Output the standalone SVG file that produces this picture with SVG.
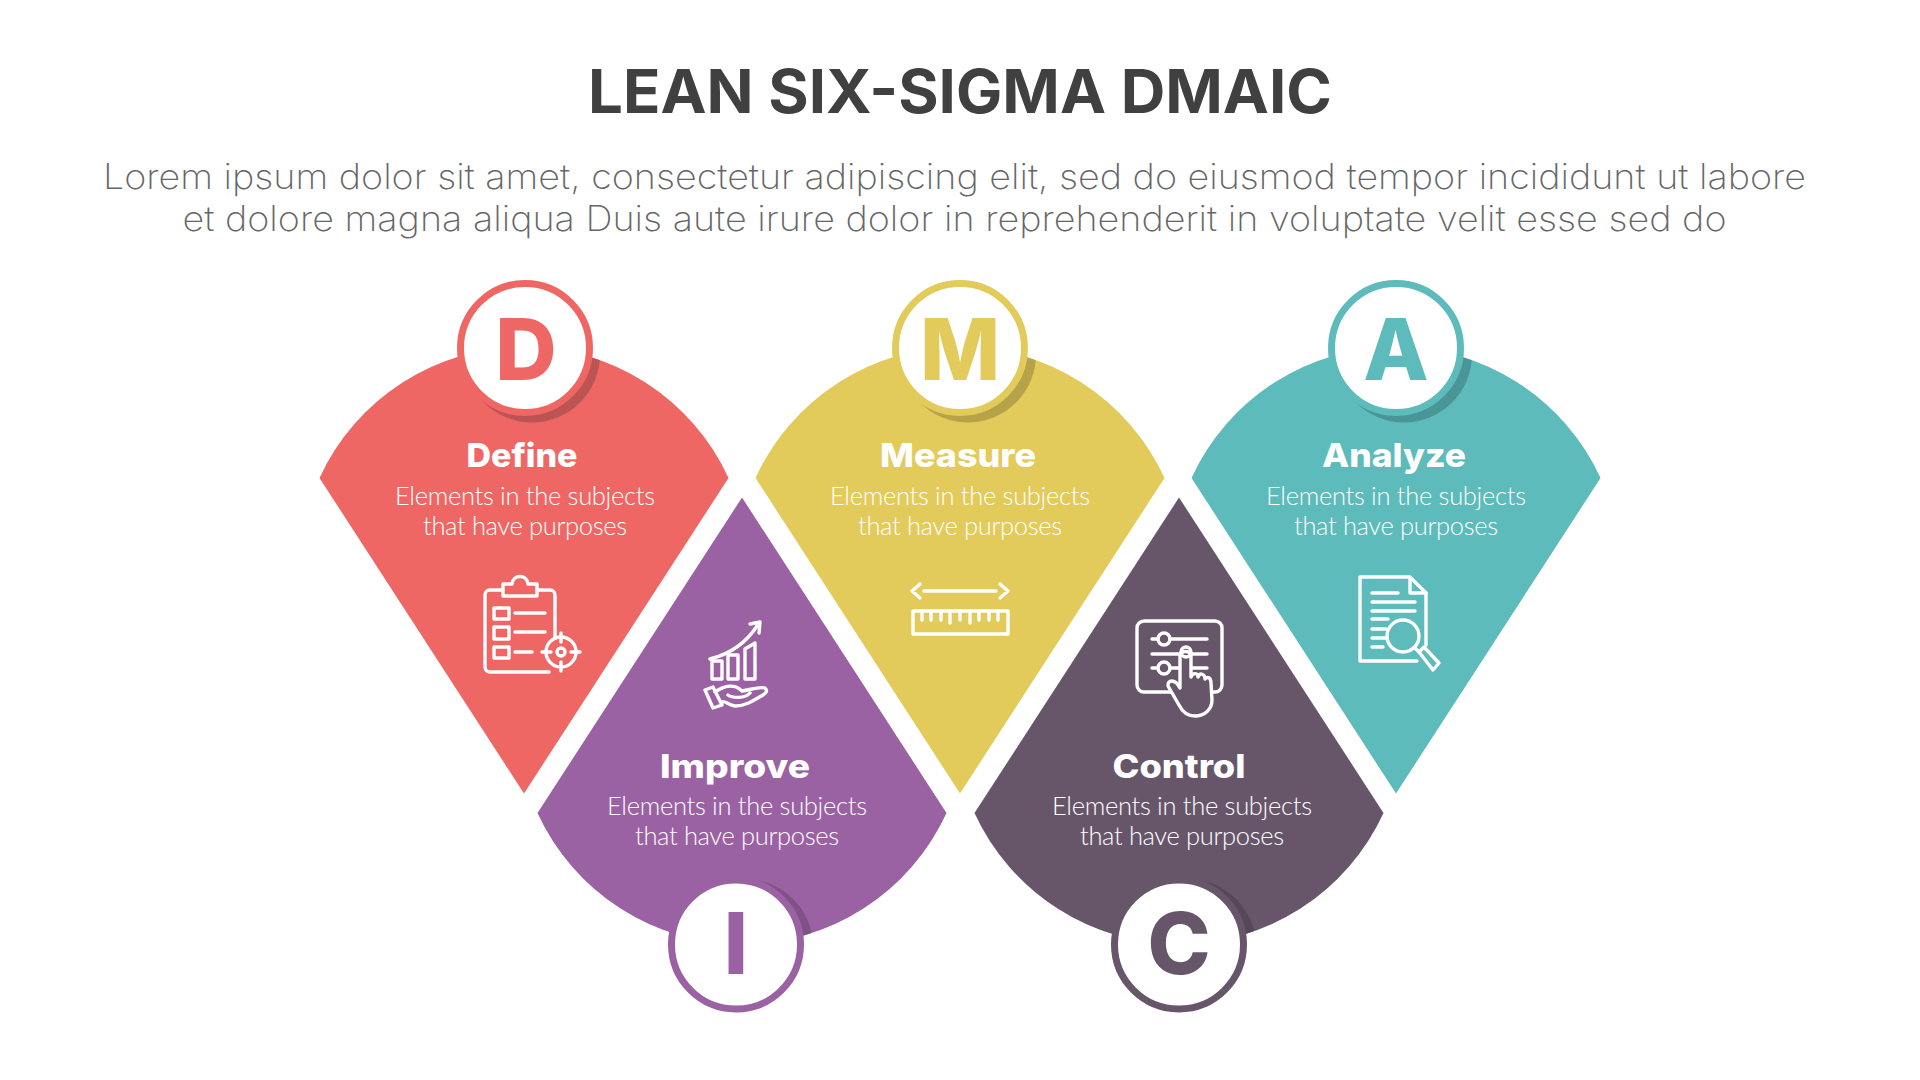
<svg xmlns="http://www.w3.org/2000/svg" width="1920" height="1080" viewBox="0 0 1920 1080">
<style>
text{text-anchor:middle}
.title{font-family:"Inter","Liberation Sans",sans-serif;font-weight:700;font-size:60px;fill:#404040}
.lead{font-family:"Inter","Open Sans",sans-serif;font-weight:200;font-size:35px;fill:#666}
.h{font-family:"Inter","Liberation Sans",sans-serif;font-weight:800;font-size:33px;fill:#fff}
.b{font-family:"Lato","Liberation Sans",sans-serif;font-weight:300;font-size:25.5px;fill:#fff}
.l{font-family:"Inter","Liberation Sans",sans-serif;font-weight:800;font-size:85px}
.i{fill:none;stroke:#fff;stroke-width:3.4;stroke-linecap:round;stroke-linejoin:round}
</style>
<defs>
<path id="down" d="M-204.500 0A225 225 0 0 1 204.500 0L0 315.500Z"/>
<path id="up" d="M-204.500 0A225 225 0 0 0 204.500 0L0 -315.500Z"/>
<clipPath id="cd"><use href="#down" x="524" y="478"/></clipPath>
<clipPath id="cm"><use href="#down" x="960" y="478"/></clipPath>
<clipPath id="ca"><use href="#down" x="1396" y="478"/></clipPath>
<clipPath id="ci"><use href="#up" x="742" y="813"/></clipPath>
<clipPath id="cc"><use href="#up" x="1179" y="813"/></clipPath>
</defs>
<rect width="1920" height="1080" fill="#fff"/>
<g id="header">
<text class="title" x="960" y="112.500" textLength="744" lengthAdjust="spacingAndGlyphs">LEAN SIX-SIGMA DMAIC</text>
<text class="lead" x="954.500" y="189" textLength="1703" lengthAdjust="spacingAndGlyphs">Lorem ipsum dolor sit amet, consectetur adipiscing elit, sed do eiusmod tempor incididunt ut labore</text>
<text class="lead" x="954.500" y="231" textLength="1544" lengthAdjust="spacingAndGlyphs">et dolore magna aliqua Duis aute irure dolor in reprehenderit in voluptate velit esse sed do</text>
</g>
<g id="connectors"/>
<g id="node-define">
<use href="#down" x="524" y="478" fill="#ee6765"/>
<circle cx="532" cy="354.500" r="68" fill="#bd5353" clip-path="url(#cd)"/>
<circle cx="525" cy="348" r="64.500" fill="#fff" stroke="#ee6765" stroke-width="7"/>
<text class="l" x="526" y="380" fill="#ee6765">D</text>
<text class="h" x="522" y="467" textLength="111" lengthAdjust="spacingAndGlyphs">Define</text>
<text class="b" x="525" y="505" textLength="260">Elements in the subjects</text>
<text class="b" x="525" y="535" textLength="204">that have purposes</text>
<g class="i">
<path d="M555 637V595a5 5 0 0 0-5-5H537M503 590H490a5 5 0 0 0-5 5V667a5 5 0 0 0 5 5H549"/>
<path d="M503 584H512C513 574 527 574 528 584H537V596H503Z"/>
<rect x="494" y="608" width="15" height="11"/><rect x="494" y="627" width="15" height="12"/><rect x="494" y="647" width="15" height="11"/>
<path d="M515 613H545M515 632H545M515 652H532"/>
<circle cx="561" cy="652" r="15"/><circle cx="561" cy="652" r="4"/>
<path d="M542 652H551M571 652H580M561 633V642M561 662V671"/>
</g>
</g>
<g id="node-measure">
<use href="#down" x="960" y="478" fill="#e3cb5b"/>
<circle cx="968" cy="354.500" r="68" fill="#b5a249" clip-path="url(#cm)"/>
<circle cx="960" cy="348" r="64.500" fill="#fff" stroke="#e3cb5b" stroke-width="7"/>
<text class="l" x="960" y="380" fill="#e3cb5b">M</text>
<text class="h" x="958" y="467" textLength="156" lengthAdjust="spacingAndGlyphs">Measure</text>
<text class="b" x="960" y="505" textLength="260">Elements in the subjects</text>
<text class="b" x="960" y="535" textLength="204">that have purposes</text>
<g class="i">
<path d="M920 584L912 591L920 598M1000 584L1008 591L1000 598M924 591H996"/>
<rect x="913" y="611" width="95" height="23"/>
<path d="M922 611V620M931 611V620M941 611V620M950 611V623M960 611V620M970 611V623M979 611V620M989 611V620M998 611V620"/>
</g>
</g>
<g id="node-analyze">
<use href="#down" x="1396" y="478" fill="#5dbbbb"/>
<circle cx="1404" cy="354.500" r="68" fill="#4a9595" clip-path="url(#ca)"/>
<circle cx="1396" cy="348" r="64.500" fill="#fff" stroke="#5dbbbb" stroke-width="7"/>
<text class="l" x="1396" y="380" fill="#5dbbbb">A</text>
<text class="h" x="1394" y="467" textLength="144" lengthAdjust="spacingAndGlyphs">Analyze</text>
<text class="b" x="1396" y="505" textLength="260">Elements in the subjects</text>
<text class="b" x="1396" y="535" textLength="204">that have purposes</text>
<g class="i">
<path d="M1426 645V593L1410 577H1360V661H1417"/>
<path d="M1410 578V593H1426"/>
<path d="M1372 593H1398M1372 602H1415M1372 611H1415M1372 619H1388M1372 629H1386M1372 638H1386M1372 647H1383"/>
<circle cx="1403" cy="636" r="16" fill="#5dbbbb"/>
<path d="M1415 648L1419 652M1419 652L1424 647L1439 663L1433 670Z"/>
</g>
</g>
<g id="node-improve">
<use href="#up" x="742" y="813" fill="#9a62a3"/>
<circle cx="745" cy="947" r="68" fill="#7f5186" clip-path="url(#ci)"/>
<circle cx="736" cy="944.500" r="64.500" fill="#fff" stroke="#9a62a3" stroke-width="7"/>
<text class="l" x="736" y="973.500" fill="#9a62a3">I</text>
<text class="h" x="735" y="778" textLength="150" lengthAdjust="spacingAndGlyphs">Improve</text>
<text class="b" x="737" y="815" textLength="260">Elements in the subjects</text>
<text class="b" x="737" y="845" textLength="204">that have purposes</text>
<g class="i">
<path d="M710 659C726 655 744 646 757 626M750 624L760 622L759 633"/>
<path d="M712 661H722V679H712ZM728 655H738V679H728ZM745 649L755 643V679H745Z"/>
<path d="M705 690L713 687L722 705L713 708ZM715 692C725 685 735 684 742 691C750 690 760 686 765 688C768 691 766 693 763 695C753 701 745 706 735 706C728 705 725 700 721 702M728 695C732 698 745 699 750 693"/>
</g>
</g>
<g id="node-control">
<use href="#up" x="1179" y="813" fill="#67566a"/>
<circle cx="1188" cy="947" r="68" fill="#574859" clip-path="url(#cc)"/>
<circle cx="1179" cy="944.500" r="64.500" fill="#fff" stroke="#67566a" stroke-width="7"/>
<text class="l" x="1179" y="973.500" fill="#67566a">C</text>
<text class="h" x="1179" y="778" textLength="133" lengthAdjust="spacingAndGlyphs">Control</text>
<text class="b" x="1182" y="815" textLength="260">Elements in the subjects</text>
<text class="b" x="1182" y="845" textLength="204">that have purposes</text>
<g class="i">
<rect x="1137" y="621" width="85" height="71" rx="7"/>
<path d="M1152 639H1158M1170 639H1207M1152 654H1207M1152 668H1158M1170 668H1207"/>
<circle cx="1164" cy="639" r="6"/><circle cx="1164" cy="668" r="6"/>
<path d="M1180 688V656C1181 650 1190 650 1191 656V677C1193 672 1198 673 1198 677C1200 672 1205 674 1205 679C1208 676 1211 678 1211 683L1212 700C1212 710 1204 716 1195 716C1187 716 1182 711 1179 705L1168 686C1167 680 1175 678 1180 688Z" fill="#67566a"/>
<circle cx="1186" cy="652" r="5"/>
</g>
</g>
</svg>
